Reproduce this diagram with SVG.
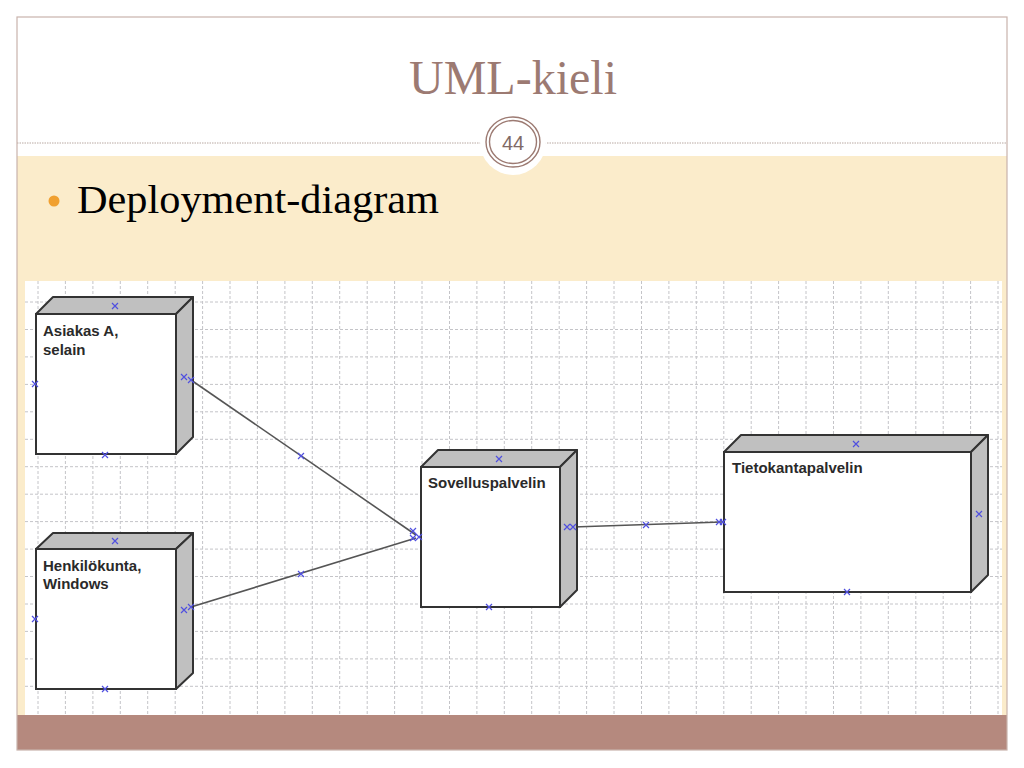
<svg xmlns="http://www.w3.org/2000/svg" width="1024" height="768" viewBox="0 0 1024 768">
<defs>
<style>
.grid{stroke:#c4c4c8;stroke-width:1;stroke-dasharray:3 2;fill:none}
.front{fill:#ffffff;stroke:#333333;stroke-width:2}
.face{fill:#c0c0c0;stroke:#333333;stroke-width:2;stroke-linejoin:round}
.lbl{font-family:"Liberation Sans",Arial,sans-serif;font-weight:bold;font-size:15px;fill:#2a2a2a}
.conn{stroke:#555555;stroke-width:1.6;fill:none}
.pt{stroke:#5050e0;stroke-width:1.2;fill:none}
</style>
<path id="x" d="M-3,-3L3,3M-3,3L3,-3"/>
</defs>
<rect x="0" y="0" width="1024" height="768" fill="#ffffff"/>
<rect x="17" y="156" width="990" height="559" fill="#fbeccb"/>
<line x1="17" y1="143" x2="1007" y2="143" stroke="#b9a9a2" stroke-width="1" stroke-dasharray="1.5 1"/>
<circle cx="513" cy="142" r="33" fill="#ffffff"/>
<ellipse cx="513" cy="142" rx="27" ry="25" fill="none" stroke="#9c7a72" stroke-width="1.4"/>
<ellipse cx="513" cy="142" rx="23.5" ry="21.5" fill="none" stroke="#9c7a72" stroke-width="1.4"/>
<text x="513" y="150" text-anchor="middle" font-family="'Liberation Sans',Arial,sans-serif" font-size="20" fill="#7f6a66">44</text>
<text x="513" y="94" text-anchor="middle" font-family="'Liberation Serif','Times New Roman',serif" font-size="48" fill="#9c7a72">UML-kieli</text>
<circle cx="54" cy="201" r="5.5" fill="#f0a030"/>
<text x="77" y="213" font-family="'Liberation Serif','Times New Roman',serif" font-size="39" fill="#000000" textLength="362" lengthAdjust="spacingAndGlyphs">Deployment-diagram</text>
<rect x="25" y="281" width="977" height="434" fill="#ffffff"/>
<path class="grid" d="M38 281V715M65.4 281V715M92.9 281V715M120.3 281V715M147.7 281V715M175.2 281V715M202.6 281V715M230 281V715M257.4 281V715M284.9 281V715M312.3 281V715M339.7 281V715M367.2 281V715M394.6 281V715M422 281V715M449.5 281V715M476.9 281V715M504.3 281V715M531.7 281V715M559.2 281V715M586.6 281V715M614 281V715M641.5 281V715M668.9 281V715M696.3 281V715M723.8 281V715M751.2 281V715M778.6 281V715M806 281V715M833.5 281V715M860.9 281V715M888.3 281V715M915.8 281V715M943.2 281V715M970.6 281V715M998 281V715"/>
<path class="grid" d="M25 302H1002M25 329.5H1002M25 356.9H1002M25 384.4H1002M25 411.8H1002M25 439.3H1002M25 466.7H1002M25 494.2H1002M25 521.6H1002M25 549.1H1002M25 576.5H1002M25 604H1002M25 631.4H1002M25 658.9H1002M25 686.3H1002"/>
<rect x="17" y="715" width="990" height="35" fill="#b5897e"/>
<rect x="17" y="17" width="990" height="733" fill="none" stroke="#c9b3ac" stroke-width="1.2"/>
<g id="connectors">
<line class="conn" x1="191" y1="380" x2="416" y2="535"/>
<line class="conn" x1="191" y1="607" x2="416" y2="538"/>
<line class="conn" x1="573" y1="527" x2="722" y2="522"/>
<use href="#x" class="pt" x="301" y="456"/>
<use href="#x" class="pt" x="301" y="574"/>
<use href="#x" class="pt" x="646" y="525"/>
</g>
<g id="node-asiakas">
<polygon class="face" points="36,314 53,297 193,297 176,314"/>
<polygon class="face" points="176,314 193,297 193,437 176,454"/>
<rect class="front" x="36" y="314" width="140" height="140"/>
<text class="lbl" x="43" y="336">Asiakas A,</text>
<text class="lbl" x="43" y="355">selain</text>
<use href="#x" class="pt" x="115" y="306"/>
<use href="#x" class="pt" x="35" y="384"/>
<use href="#x" class="pt" x="105" y="455"/>
<use href="#x" class="pt" x="184" y="377"/>
<use href="#x" class="pt" x="191" y="380"/>
</g>
<g id="node-henkilokunta">
<polygon class="face" points="36,549 53,533 193,533 176,549"/>
<polygon class="face" points="176,549 193,533 193,673 176,689"/>
<rect class="front" x="36" y="549" width="140" height="140"/>
<text class="lbl" x="43" y="571">Henkilökunta,</text>
<text class="lbl" x="43" y="589">Windows</text>
<use href="#x" class="pt" x="115" y="541"/>
<use href="#x" class="pt" x="35" y="619"/>
<use href="#x" class="pt" x="105" y="689"/>
<use href="#x" class="pt" x="184" y="610"/>
<use href="#x" class="pt" x="191" y="607"/>
</g>
<g id="node-sovelluspalvelin">
<polygon class="face" points="421,467 438,450 577,450 560,467"/>
<polygon class="face" points="560,467 577,450 577,590 560,607"/>
<rect class="front" x="421" y="467" width="139" height="140"/>
<text class="lbl" x="428" y="488">Sovelluspalvelin</text>
<use href="#x" class="pt" x="499" y="459"/>
<use href="#x" class="pt" x="489" y="607"/>
<use href="#x" class="pt" x="413" y="531"/>
<use href="#x" class="pt" x="413" y="538"/>
<use href="#x" class="pt" x="419" y="537"/>
<use href="#x" class="pt" x="567" y="527"/>
<use href="#x" class="pt" x="573" y="527"/>
</g>
<g id="node-tietokantapalvelin">
<polygon class="face" points="724,452 741,435 988,435 971,452"/>
<polygon class="face" points="971,452 988,435 988,575 971,592"/>
<rect class="front" x="724" y="452" width="247" height="140"/>
<text class="lbl" x="732" y="473">Tietokantapalvelin</text>
<use href="#x" class="pt" x="856" y="444"/>
<use href="#x" class="pt" x="979" y="514"/>
<use href="#x" class="pt" x="847" y="592"/>
<use href="#x" class="pt" x="719" y="522"/>
<use href="#x" class="pt" x="723" y="522"/>
</g>
</svg>
